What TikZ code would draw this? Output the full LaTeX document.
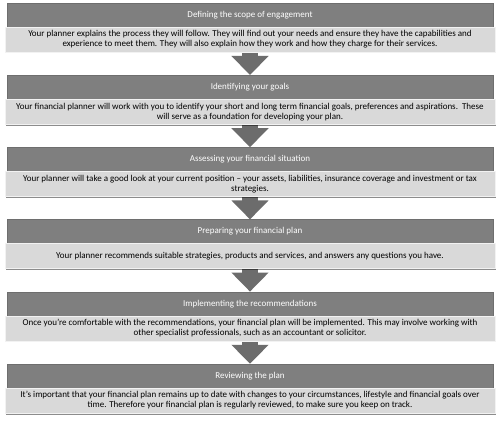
\documentclass[tikz,border=0pt]{standalone}
\usepackage{fontspec}
\setmainfont{Carlito}
\usetikzlibrary{arrows.meta,shadows,backgrounds}
\definecolor{hdrgray}{HTML}{7F7F7F}
\definecolor{hdredge}{HTML}{6E6E6E}
\definecolor{bodygray}{HTML}{D9D9D9}
\definecolor{bodyedge}{HTML}{F2F2F2}
\definecolor{arrowgray}{HTML}{6C6C6C}
\tikzset{
  hdr/.style={fill=hdrgray, draw=hdredge, line width=0.4pt, minimum width=486pt, minimum height=24pt,
    inner sep=0pt, text=white, font=\fontsize{9}{10}\selectfont},
  body/.style={fill=bodygray, draw=bodyedge, line width=0.6pt, minimum width=490pt, minimum height=25pt,
    inner sep=0pt, align=center, text=black, font=\fontsize{9}{10}\selectfont,
    drop shadow={shadow xshift=0.8pt, shadow yshift=-1.5pt, opacity=0.45, fill=black}},
  flow/.style={arrowgray, line width=16pt, -{Triangle[width=36pt,length=19pt]}}
}
\begin{document}
\begin{tikzpicture}[x=1pt,y=-1pt]
\useasboundingbox (0,0) rectangle (500,422);
\node[hdr] (h1) at (250,15) {Defining the scope of engagement};
\node[body] (b1) at (250,39.5) {Your planner explains the process they will follow. They will find out your needs and ensure they have the capabilities and\\experience to meet them. They will also explain how they work and how they charge for their services.};
\node[hdr] (h2) at (250,87.2) {Identifying your goals};
\node[body] (b2) at (250,111.7) {Your financial planner will work with you to identify your short and long term financial goals, preferences and aspirations.\ \ These\\will serve as a foundation for developing your plan.};
\node[hdr] (h3) at (250,159.4) {Assessing your financial situation};
\node[body] (b3) at (250,183.9) {Your planner will take a good look at your current position – your assets, liabilities, insurance coverage and investment or tax\\strategies.};
\node[hdr] (h4) at (250,231.6) {Preparing your financial plan};
\node[body] (b4) at (250,256.1) {Your planner recommends suitable strategies, products and services, and answers any questions you have.};
\node[hdr] (h5) at (250,303.8) {Implementing the recommendations};
\node[body] (b5) at (250,328.3) {Once you’re comfortable with the recommendations, your financial plan will be implemented. This may involve working with\\other specialist professionals, such as an accountant or solicitor.};
\node[hdr] (h6) at (250,376) {Reviewing the plan};
\node[body] (b6) at (250,400.5) {It’s important that your financial plan remains up to date with changes to your circumstances, lifestyle and financial goals over\\time. Therefore your financial plan is regularly reviewed, to make sure you keep on track.};
\begin{scope}[on background layer]
\fill[white] (0,0) rectangle (500,422);
\draw[flow] ([yshift=2pt]b1.south) -- (h2.north);
\draw[flow] ([yshift=2pt]b2.south) -- (h3.north);
\draw[flow] ([yshift=2pt]b3.south) -- (h4.north);
\draw[flow] ([yshift=2pt]b4.south) -- (h5.north);
\draw[flow] ([yshift=2pt]b5.south) -- (h6.north);
\end{scope}
\end{tikzpicture}
\end{document}
